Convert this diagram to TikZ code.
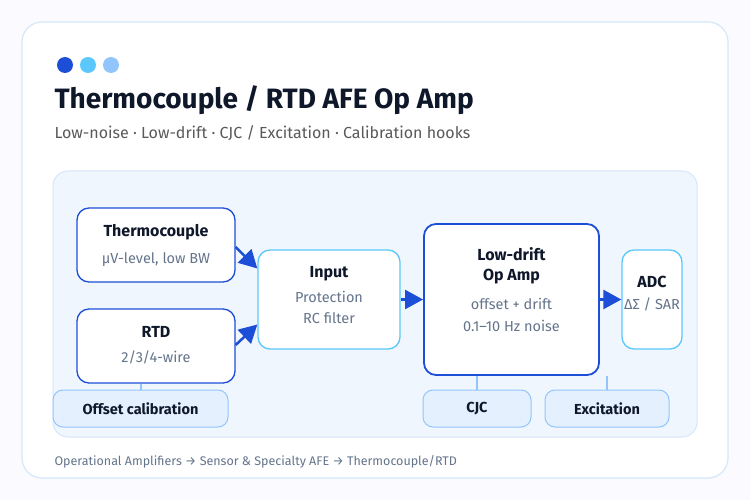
\documentclass[tikz,border=0pt]{standalone}
\usepackage{fontspec}
\setmainfont{Fira Sans}
\usetikzlibrary{positioning}
\usetikzlibrary{arrows.meta}
\definecolor{ink}{HTML}{0F172A}
\definecolor{muted}{HTML}{64748B}
\definecolor{deep}{HTML}{1D4ED8}
\definecolor{sky}{HTML}{5AC8FA}
\definecolor{pale}{HTML}{93C5FD}
\definecolor{panel}{HTML}{EFF6FE}
\definecolor{edge}{HTML}{D6E7FA}
\definecolor{tagfill}{HTML}{E4F0FE}
\begin{document}
\begin{tikzpicture}[x=1pt, y=-1pt,
    block/.style={rectangle, rounded corners=12pt, draw=deep, fill=white, line width=1.3pt},
    soft/.style={rectangle, rounded corners=12pt, draw=sky, fill=white, line width=1.3pt},
    tag/.style={rectangle, rounded corners=10pt, draw=pale, fill=tagfill, line width=1pt, font=\bfseries\fontsize{14.5}{16}\selectfont, text=ink},
    head/.style={font=\bfseries\fontsize{16}{18}\selectfont, text=ink},
    note/.style={font=\fontsize{14.5}{16}\selectfont, text=muted},
    feed/.style={-{Triangle[length=18pt,width=19pt]}, draw=deep, line width=2.5pt},
    stub/.style={draw=pale, line width=2pt}]
        \fill[blue!2] (0,0) rectangle (750,500);
        \draw[edge, fill=white, line width=1.2pt, rounded corners=20pt] (22,22) rectangle (728,478);
        \fill[deep] (65,65) circle (8);
        \fill[sky] (88,65) circle (8);
        \fill[pale] (111,65) circle (8);
        \node[anchor=west, font=\bfseries\fontsize{28}{30}\selectfont, text=ink] (title) at (51,100) {Thermocouple / RTD AFE Op Amp};
        \node[anchor=west, font=\fontsize{16}{18}\selectfont, text=black!65] (subtitle) at (51,133) {Low-noise · Low-drift · CJC / Excitation · Calibration hooks};
        \draw[edge, fill=panel, line width=1pt, rounded corners=15pt] (53,171) rectangle (697,437);

        \node[block, minimum width=158pt, minimum height=74pt] (TC) at (156,245) {};
        \node[block, minimum width=158pt, minimum height=74pt] (RTD) at (156,346) {};
        \node[soft, minimum width=142pt, minimum height=99pt] (IN) at (329,299.5) {};
        \node[block, line width=1.8pt, minimum width=175pt, minimum height=151pt] (AMP) at (511.5,299.5) {};
        \node[soft, minimum width=60pt, minimum height=99pt] (ADC) at (652,299.5) {};
        \node[tag, minimum width=175pt, minimum height=37pt] (CAL) at (140.5,408.5) {Offset calibration};
        \node[tag, minimum width=108pt, minimum height=37pt] (CJC) at (477,408.5) {CJC};
        \node[tag, minimum width=124pt, minimum height=37pt] (EXC) at (607,408.5) {Excitation};

        \node[head] (TCa) at (156,232) {Thermocouple};
        \node[note] (TCb) at (156,260) {μV-level, low BW};
        \node[head] (RTDa) at (156,332) {RTD};
        \node[note] (RTDb) at (156,357) {2/3/4-wire};
        \node[head] (INa) at (329,274) {Input};
        \node[note] (INb) at (329,297) {Protection};
        \node[note] (INc) at (329,318) {RC filter};
        \node[head] (AMPa) at (511.5,254) {Low-drift};
        \node[head] (AMPb) at (511.5,277) {Op Amp};
        \node[note] (AMPc) at (511.5,304) {offset + drift};
        \node[note] (AMPd) at (511.5,326) {0.1–10 Hz noise};
        \node[head] (ADCa) at (652,282) {ADC};
        \node[note] (ADCb) at (652,304) {ΔΣ / SAR};

        \draw[feed] ([yshift=-2pt] TC.east) -- ([yshift=31pt] IN.west);
        \draw[feed] ([yshift=1pt] RTD.east) -- ([yshift=-25pt] IN.west);
        \draw[feed] (IN.east) -- (AMP.west);
        \draw[feed] (AMP.east) -- (ADC.west);

        \draw[stub] ([xshift=-15pt] RTD.south) -- ([xshift=0.5pt] CAL.north);
        \draw[stub] (AMP.south -| CJC.north) -- (CJC.north);
        \draw[stub] (AMP.south -| EXC.north) -- (EXC.north);

        \node[anchor=west, font=\fontsize{12.5}{14}\selectfont, text=muted] (crumbs) at (51,462) {Operational Amplifiers → Sensor \& Specialty AFE → Thermocouple/RTD};
\end{tikzpicture}
\end{document}
